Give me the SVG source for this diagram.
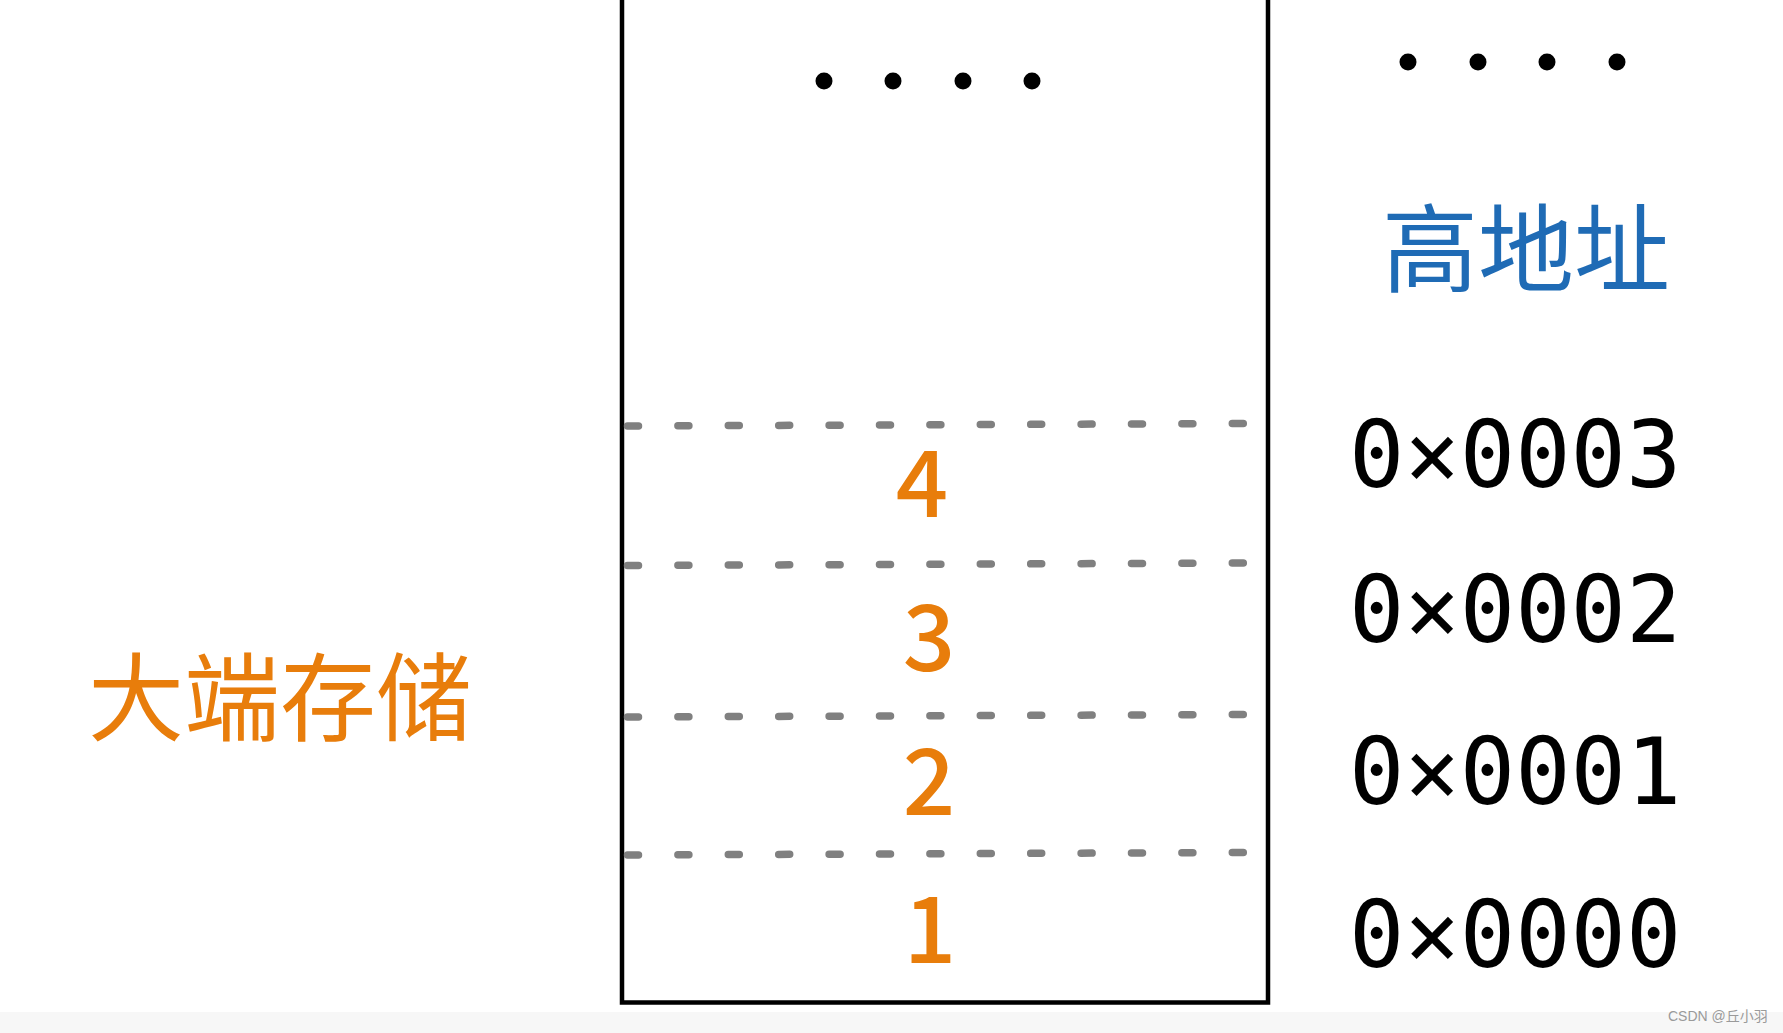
<svg xmlns="http://www.w3.org/2000/svg" width="1783" height="1033" viewBox="0 0 1783 1033">
  <style>
    .box { fill: none; stroke: #000; stroke-width: 4.5; stroke-linejoin: miter; }
    .div { stroke: #808080; stroke-width: 7.5; stroke-linecap: round; stroke-dasharray: 11 39.4; fill: none; }
    .dot { fill: #000; }
    .num { font-family: "Noto Sans CJK SC", "Noto Sans", sans-serif; font-size: 92px; font-weight: 500; fill: #E87D0B; text-anchor: middle; }
    .addr { font-family: "DejaVu Sans Mono", "Liberation Mono", monospace; font-size: 92px; fill: #000; }
    .title { font-family: "Noto Sans CJK SC", "Noto Sans", sans-serif; font-size: 96px; text-anchor: middle; }
  </style>
  <rect x="0" y="0" width="1783" height="1033" fill="#fff"/>
  <rect x="0" y="1012" width="1783" height="21" fill="#f7f7f7"/>

  <g id="memory-box">
    <path class="box" d="M622,-5 V1002.5 H1268 V-5"/>
    <g id="top-ellipsis">
      <circle class="dot" cx="824" cy="81" r="8.5"/>
      <circle class="dot" cx="893" cy="81" r="8.5"/>
      <circle class="dot" cx="963" cy="81" r="8.5"/>
      <circle class="dot" cx="1032" cy="81" r="8.5"/>
    </g>
  </g>

  <g id="dividers">
    <line class="div" x1="627.5" y1="426" x2="1244" y2="423.5"/>
    <line class="div" x1="627.5" y1="565.5" x2="1244" y2="563"/>
    <line class="div" x1="627.5" y1="717" x2="1244" y2="714.5"/>
    <line class="div" x1="627.5" y1="855" x2="1244" y2="852.5"/>
  </g>

  <g id="cell-4"><text class="num" x="922" y="517">4</text></g>
  <g id="cell-3"><text class="num" x="929" y="671">3</text></g>
  <g id="cell-2"><text class="num" x="929" y="815">2</text></g>
  <g id="cell-1"><text class="num" x="930" y="963">1</text></g>

  <g id="right-ellipsis">
    <circle class="dot" cx="1408" cy="62" r="8.5"/>
    <circle class="dot" cx="1478" cy="62" r="8.5"/>
    <circle class="dot" cx="1547" cy="62" r="8.5"/>
    <circle class="dot" cx="1617" cy="62" r="8.5"/>
  </g>

  <g id="high-address"><text class="title" x="1526" y="284" fill="#1F6BB5">高地址</text></g>

  <g id="addr-3"><text class="addr" x="1349" y="487">0×0003</text></g>
  <g id="addr-2"><text class="addr" x="1349" y="642">0×0002</text></g>
  <g id="addr-1"><text class="addr" x="1349" y="804">0×0001</text></g>
  <g id="addr-0"><text class="addr" x="1349" y="967">0×0000</text></g>

  <g id="big-endian-label"><text class="title" x="280" y="733" fill="#E87D0B">大端存储</text></g>

  <g id="watermark"><text x="1668" y="1021" font-family="'Liberation Sans', 'Noto Sans CJK SC', sans-serif" font-size="14" fill="#9a9a9a">CSDN @丘小羽</text></g>
</svg>
